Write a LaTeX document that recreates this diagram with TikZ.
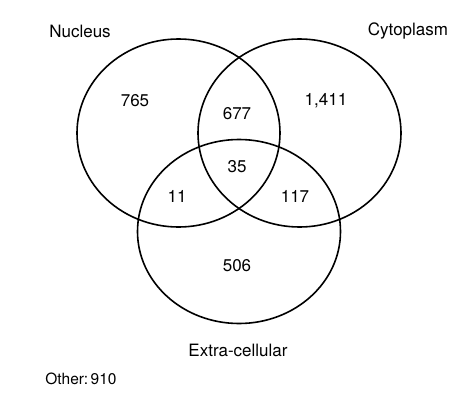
\documentclass[tikz,border=0pt]{standalone}
\usepackage{fontspec}
\setmainfont{TeX Gyre Heros}
\usetikzlibrary{shapes.geometric}

\begin{document}
\begin{tikzpicture}[
    x=1pt, y=-1pt,
    set/.style={
        ellipse,
        draw=black,
        line width=1.6pt,
        inner sep=0pt,
        minimum width=203pt
    },
    count/.style={
        inner sep=0pt,
        font=\fontsize{17}{20}\selectfont
    },
    setname/.style={
        count
    }
]
\useasboundingbox (0,0) rectangle (474,415);

% Sets
\node[set, minimum height=188pt] (nuc) at (178.5,133) {};
\node[set, minimum height=188pt] (cyt) at (299.5,133) {};
\node[set, minimum height=184pt] (ext) at (239,231.5) {};

% Set names
\node[setname] (nucname) at (80,31) {Nucleus};
\node[setname] (cytname) at (408,31) {Cytoplasm};
\node[setname] (extname) at (238,350) {Extra-cellular};

% Counts
\node[count] (n100) at (135,101) {765};
\node[count] (n010) at (326,101) {1,411};
\node[count] (n110) at (237,114) {677};
\node[count] (n111) at (237,167) {35};
\node[count] (n101) at (177,196) {11};
\node[count] (n011) at (295,196) {117};
\node[count] (n001) at (237,266) {506};

\node[count, font=\fontsize{15.5}{18}\selectfont] (other) at (81,379) {Other:\,910};

\end{tikzpicture}
\end{document}
